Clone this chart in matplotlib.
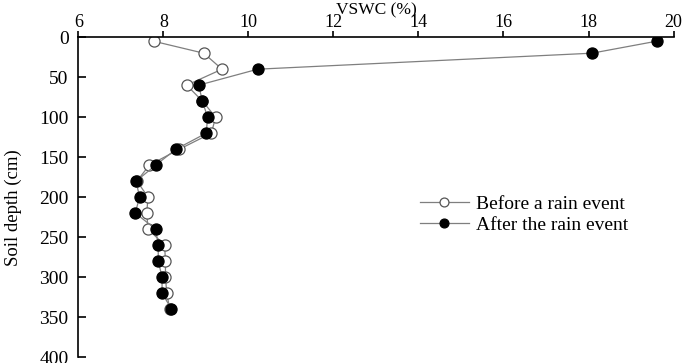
import numpy as np
from matplotlib import pyplot as plt

# soil depth (cm) and VSWC (%)
depth = [5, 20, 40, 60, 80, 100, 120, 140, 160, 180, 200, 220, 240, 260, 280, 300, 320, 340]
vswc_before = [7.77, 8.95, 9.38, 8.55, 8.92, 9.23, 9.13, 8.38, 7.67, 7.38, 7.64, 7.61, 7.64, 8.03, 8.05, 8.05, 8.08, 8.15]
vswc_after = [19.6, 18.08, 10.22, 8.83, 8.92, 9.04, 9.01, 8.30, 7.82, 7.36, 7.44, 7.34, 7.82, 7.88, 7.88, 7.97, 7.97, 8.19]

x_ticks = [6, 8, 10, 12, 14, 16, 18, 20]
y_ticks = [0, 50, 100, 150, 200, 250, 300, 350, 400]

plt.rcParams['font.family'] = ['Liberation Serif', 'DejaVu Serif']

fig = plt.figure(figsize=(6.85, 3.63), dpi=100)
ax = fig.add_axes([0.1143, 0.0165, 0.869, 0.881])

ax.plot(vswc_before, depth, '-o', color='#7f7f7f', lw=0.9, ms=8,
        mfc='white', mec='#555555', mew=0.9, label='Before a rain event', zorder=2)
ax.plot(vswc_after, depth, '-o', color='#7f7f7f', lw=0.9, ms=8,
        mfc='black', mec='black', mew=0.9, label='After the rain event', zorder=3)

ax.set_xlim(6, 20)
ax.set_ylim(400, 0)
ax.set_xticks(x_ticks)
ax.set_yticks(y_ticks)

ax.spines['right'].set_visible(False)
ax.spines['bottom'].set_visible(False)
ax.spines['top'].set_linewidth(1.2)
ax.spines['left'].set_linewidth(1.2)

ax.xaxis.tick_top()
ax.xaxis.set_label_position('top')
ax.tick_params(axis='x', direction='out', length=4.5, width=1.2, pad=0, labelsize=13)
ax.tick_params(axis='y', direction='in', length=6, width=1.2, pad=7, labelsize=14)

ax.set_xlabel('VSWC (%)', fontsize=12.5)
ax.xaxis.set_label_coords(0.5, 1.072)
ax.set_ylabel('Soil depth (cm)', fontsize=13.5)
ax.yaxis.set_label_coords(-0.095, 0.466)

ax.legend(loc='upper left', bbox_to_anchor=(0.574, 0.505), frameon=False,
          fontsize=14, markerscale=0.8, handlelength=2.5, handletextpad=0.36,
          labelspacing=0.15, borderpad=0, borderaxespad=0)

fig.savefig('out.png', dpi=100)
